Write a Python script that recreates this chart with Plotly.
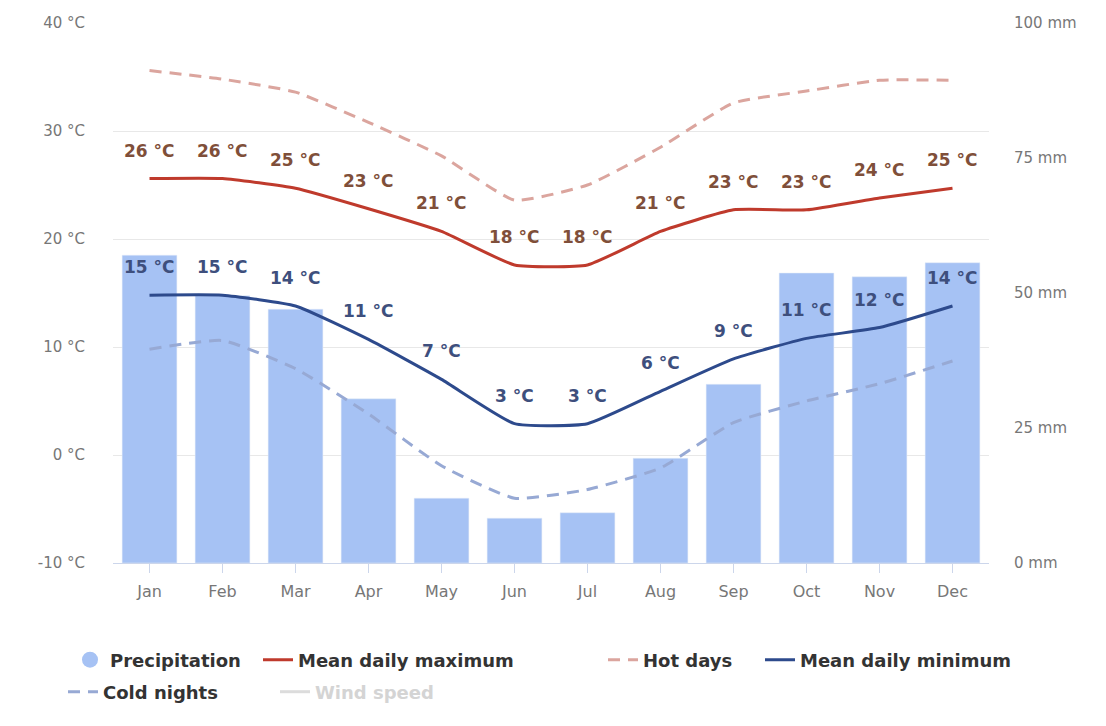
import plotly.graph_objects as go

months = ["Jan", "Feb", "Mar", "Apr", "May", "Jun", "Jul", "Aug", "Sep", "Oct", "Nov", "Dec"]
precipitation = [57, 49.5, 47, 30.4, 12, 8.3, 9.3, 19.4, 33.1, 53.7, 53, 55.6]
mean_max = [25.6, 25.6, 24.7, 22.8, 20.7, 17.6, 17.6, 20.7, 22.7, 22.7, 23.8, 24.7]
hot_days = [35.6, 34.8, 33.6, 30.8, 27.7, 23.6, 25.0, 28.5, 32.6, 33.7, 34.7, 34.7]
mean_min = [14.8, 14.8, 13.8, 10.7, 7.0, 2.9, 2.9, 5.9, 8.9, 10.8, 11.8, 13.8]
cold_nights = [9.8, 10.6, 8.0, 3.8, -1.0, -4.0, -3.2, -1.2, 3.0, 5.0, 6.6, 8.7]
wind_speed = [None] * 12  # hidden series (legend only)

temp_ticks = [-10, 0, 10, 20, 30, 40]
temp_ticktext = [f"{v} °C" for v in temp_ticks]
precip_ticks = [0, 25, 50, 75, 100]
precip_ticktext = [f"{v} mm" for v in precip_ticks]

BAR = "#a6c2f4"
MAXC = "#bf3a2c"
HOTC = "#dba59e"
MINC = "#2d4a8c"
COLDC = "#97a9d4"
FONT = "DejaVu Sans"
SM = 0.45

fig = go.Figure()

fig.add_trace(go.Bar(x=months, y=precipitation, name="Precipitation", marker_color=BAR,
                     yaxis="y", showlegend=False))
# legend proxy with circle symbol
fig.add_trace(go.Scatter(x=[None], y=[None], mode="markers", name="Precipitation",
                         marker=dict(symbol="circle", size=16, color=BAR), yaxis="y", legend="legend"))
fig.add_trace(go.Scatter(x=months, y=mean_max, name="Mean daily maximum", mode="lines",
                         line=dict(color=MAXC, width=3, shape="spline", smoothing=SM), yaxis="y2",
                         legend="legend2"))
fig.add_trace(go.Scatter(x=months, y=hot_days, name="Hot days", mode="lines",
                         line=dict(color=HOTC, width=3, shape="spline", smoothing=SM, dash="12px,8px"),
                         yaxis="y2", legend="legend3"))
fig.add_trace(go.Scatter(x=months, y=mean_min, name="Mean daily minimum", mode="lines",
                         line=dict(color=MINC, width=3, shape="spline", smoothing=SM), yaxis="y2",
                         legend="legend4"))
fig.add_trace(go.Scatter(x=months, y=cold_nights, name="Cold nights", mode="lines",
                         line=dict(color=COLDC, width=3, shape="spline", smoothing=SM, dash="12px,8px"),
                         yaxis="y2", legend="legend5"))
fig.add_trace(go.Scatter(x=months, y=wind_speed, name="Wind speed", mode="lines",
                         line=dict(color="#bbbbbb", width=3), yaxis="y2", visible="legendonly",
                         legend="legend6"))

annotations = []
for m, v in zip(months, mean_max):
    annotations.append(dict(x=m, y=v, xref="x", yref="y2", text=f"{round(v)} °C", showarrow=False,
                            yshift=28, font=dict(family=FONT, size=17, color="#7f4f3a", weight="bold")))
for m, v in zip(months, mean_min):
    annotations.append(dict(x=m, y=v, xref="x", yref="y2", text=f"{round(v)} °C", showarrow=False,
                            yshift=28, font=dict(family=FONT, size=17, color="#3e4f7d", weight="bold")))

# plot area in pixels
PL, PR, PT, PB = 113, 989, 23, 563
PW, PH = PR - PL, PB - PT


def lx(px):
    return (px - PL) / PW


def ly(py):
    return (PB - py) / PH


def leg(textx, rowy, color="#333333"):
    return dict(orientation="h", x=lx(textx - 40), xanchor="left", y=ly(rowy), yanchor="middle",
                font=dict(family=FONT, size=18, color=color, weight="bold"),
                itemwidth=30, bgcolor="rgba(0,0,0,0)")


fig.update_layout(
    width=1106, height=726,
    margin=dict(l=PL, r=1106 - PR, t=PT, b=726 - PB),
    paper_bgcolor="white", plot_bgcolor="white",
    bargap=0.25,
    font=dict(family=FONT, size=16, color="#777777"),
    xaxis=dict(type="category", showgrid=False, showline=True, linecolor="#ccd6eb",
               ticks="outside", ticklen=9, tickcolor="#ccd6eb", ticklabelstandoff=5,
               tickfont=dict(size=16, color="#777777")),
    yaxis=dict(range=[0, 100], side="right", tickvals=precip_ticks, ticktext=precip_ticktext,
               showgrid=False, zeroline=False, ticklabelstandoff=24,
               tickfont=dict(size=15, color="#777777")),
    yaxis2=dict(range=[-10, 40], side="left", overlaying="y", tickvals=temp_ticks, ticktext=temp_ticktext,
                showgrid=True, gridcolor="#e8e8e8", zeroline=False, ticklabelstandoff=27,
                tickfont=dict(size=15, color="#777777")),
    legend=leg(110, 660),
    legend2=leg(298, 660),
    legend3=leg(643, 660),
    legend4=leg(800, 660),
    legend5=leg(103, 692),
    legend6=leg(315, 692, color="#aaaaaa"),
    annotations=annotations,
)

fig.write_html("out.html")
